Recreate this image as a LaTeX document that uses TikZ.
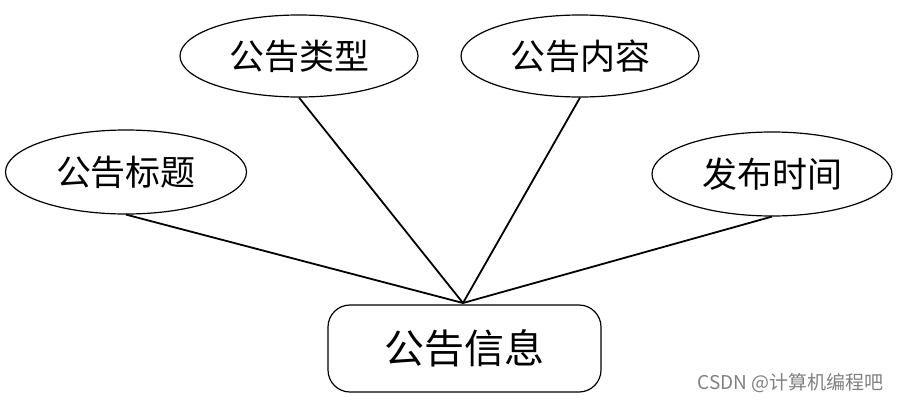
\documentclass[tikz,border=0pt]{standalone}
\usepackage{fontspec}
\setmainfont{Noto Sans CJK SC}
\usetikzlibrary{shapes.geometric}
\begin{document}
\begin{tikzpicture}[x=1pt,y=-1pt,
  attr/.style={draw,ellipse,line width=1.2pt,minimum width=238pt,minimum height=82pt,font=\fontsize{35}{37}\selectfont,inner sep=0pt},
  ent/.style={draw,rounded corners=22pt,line width=1.2pt,minimum width=273pt,minimum height=87pt,font=\fontsize{40}{42}\selectfont,inner sep=0pt},
  link/.style={line width=1.8pt}]
\useasboundingbox (0,0) rectangle (900,402);
\node[attr] (t) at (299,56) {公告类型};
\node[attr] (c) at (580,56) {公告内容};
\node[attr,minimum width=241pt,minimum height=84pt] (h) at (126,172) {公告标题};
\node[attr,minimum width=240pt,minimum height=84pt] (p) at (772,174) {发布时间};
\node[ent] (e) at (464.5,348.5) {公告信息};
\coordinate (m) at (463,303);
\draw[link] (h.south) -- (m);
\draw[link] (t.south) -- (m);
\draw[link] (c.south) -- (m);
\draw[link] (p.south) -- (m);
\node[text=gray,font=\fontsize{19}{20}\selectfont,anchor=east,inner sep=0pt] (w) at (884,383) {CSDN @计算机编程吧};
\end{tikzpicture}
\end{document}
